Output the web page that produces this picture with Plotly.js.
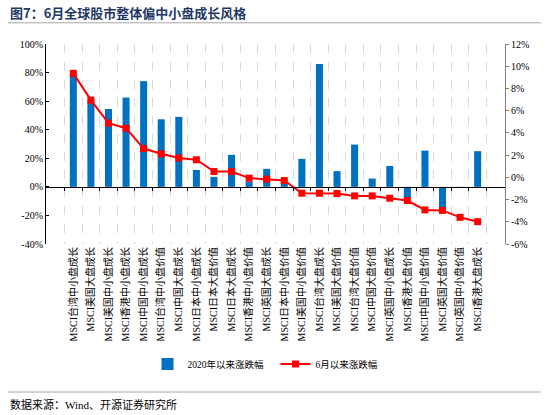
<!DOCTYPE html>
<html>
<head>
<meta charset="utf-8">
<script src="https://cdn.plot.ly/plotly-3.0.1.min.js"></script>
<style>html,body{margin:0;padding:0;background:#fff;}#chart{width:550px;height:415px;}</style>
</head>
<body>
<div id="chart"></div>
<script>
const categories = [
  "MSCI台湾中小盘成长","MSCI美国大盘成长","MSCI美国中小盘成长","MSCI香港中小盘成长",
  "MSCI中国中小盘成长","MSCI台湾中小盘价值","MSCI中国大盘成长","MSCI日本中小盘成长",
  "MSCI日本大盘价值","MSCI日本大盘成长","MSCI香港中小盘价值","MSCI英国大盘成长",
  "MSCI日本中小盘价值","MSCI美国中小盘价值","MSCI台湾大盘成长","MSCI美国大盘价值",
  "MSCI台湾大盘价值","MSCI中国大盘价值","MSCI英国中小盘成长","MSCI香港大盘价值",
  "MSCI中国中小盘价值","MSCI英国大盘价值","MSCI英国中小盘价值","MSCI香港大盘成长"
];
const ytdChange = [78, 60, 54.5, 62.5, 74, 47.3, 49, 11.8, 7.0, 22.4, 3.8, 12.6,
                   3.5, 19.6, 86, 11, 29.6, 5.8, 14.6, -8.5, 25.4, -15.5, -0.3, 25];
const juneChange = [9.36, 6.95, 4.87, 4.42, 2.59, 2.12, 1.74, 1.58, 0.52, 0.52, -0.07, -0.16,
                    -0.29, -1.43, -1.43, -1.46, -1.67, -1.67, -1.88, -2.09, -2.93, -2.98, -3.6, -3.99];
const leftTicks = [-40, -20, 0, 20, 40, 60, 80, 100];
const rightTicks = [-6, -4, -2, 0, 2, 4, 6, 8, 10, 12];
const seriesNames = ["2020年以来涨跌幅", "6月以来涨跌幅"];
const titleText = "图7：6月全球股市整体偏中小盘成长风格";
const sourceText = "数据来源：Wind、开源证券研究所";

const serif = "Liberation Serif, Noto Sans CJK SC, serif";
const cjk = "Liberation Serif, Noto Sans CJK SC, sans-serif";

const traces = [
  {
    type: "bar", name: seriesNames[0], x: categories, y: ytdChange,
    marker: {color: "#0070C0"}, width: 0.4,
    xaxis: "x", yaxis: "y", hoverinfo: "x+y"
  },
  {
    type: "scatter", mode: "lines+markers", name: seriesNames[1], x: categories, y: juneChange,
    line: {color: "#FF0000", width: 2},
    marker: {color: "#FF0000", symbol: "square", size: 7},
    xaxis: "x2", yaxis: "y2"
  }
];

const zeroPos = (0 - leftTicks[0]) / (leftTicks[leftTicks.length - 1] - leftTicks[0]);

const layout = {
  width: 550, height: 415,
  margin: {l: 46, r: 45, t: 44, b: 171},
  paper_bgcolor: "#fff", plot_bgcolor: "#fff",
  showlegend: true,
  bargap: 0.6,
  xaxis: {
    type: "category", tickangle: -90,
    tickfont: {family: cjk, size: 10, color: "#000"},
    showline: false, ticks: "", showgrid: true, gridcolor: "#D9D9D9", griddash: "dash", gridwidth: 1,
    tickson: "boundaries", zeroline: false, automargin: false
  },
  xaxis2: {
    type: "category", overlaying: "x", matches: "x", anchor: "free", position: zeroPos,
    showline: true, linecolor: "#000", linewidth: 1,
    ticks: "outside", ticklen: 3, tickcolor: "#000", tickson: "boundaries",
    showticklabels: false, showgrid: false, zeroline: false
  },
  yaxis: {
    range: [leftTicks[0], leftTicks[leftTicks.length - 1]],
    tickvals: leftTicks, ticktext: leftTicks.map(v => v + "%"),
    tickfont: {family: serif, size: 10, color: "#000"},
    showline: true, linecolor: "#000", linewidth: 1,
    ticks: "inside", ticklen: 3, tickcolor: "#000",
    showgrid: false, zeroline: false
  },
  yaxis2: {
    overlaying: "y", side: "right", anchor: "x",
    range: [rightTicks[0], rightTicks[rightTicks.length - 1]],
    tickvals: rightTicks, ticktext: rightTicks.map(v => v + "%"),
    tickfont: {family: serif, size: 10, color: "#000"},
    showline: true, linecolor: "#808080", linewidth: 1,
    ticks: "outside", ticklen: 3, tickcolor: "#808080",
    showgrid: false, zeroline: false
  },
  legend: {
    orientation: "h", x: 0.5, xanchor: "center", y: -0.6, yanchor: "middle",
    font: {family: cjk, size: 9.5, color: "#000"},
    itemwidth: 30, traceorder: "normal", entrywidth: 83, entrywidthmode: "pixels"
  },
  annotations: [
    {text: "<b>" + titleText + "</b>", xref: "paper", yref: "paper", x: -0.083, y: 1.16,
     xanchor: "left", yanchor: "middle", showarrow: false,
     font: {family: "Noto Sans CJK SC, sans-serif", size: 13, color: "#1F3864"}},
    {text: sourceText, xref: "paper", yref: "paper", x: -0.083, y: -0.8,
     xanchor: "left", yanchor: "middle", showarrow: false,
     font: {family: cjk, size: 11, color: "#000"}}
  ],
  shapes: [
    {type: "line", xref: "paper", yref: "paper", x0: -0.083, x1: 1.078, y0: 1.106, y1: 1.106,
     line: {color: "#A6A6A6", width: 1}},
    {type: "line", xref: "paper", yref: "paper", x0: -0.083, x1: 1.078, y0: -0.74, y1: -0.74,
     line: {color: "#A6A6A6", width: 1}}
  ]
};

Plotly.newPlot("chart", traces, layout, {displayModeBar: false, staticPlot: true});
</script>
</body>
</html>
